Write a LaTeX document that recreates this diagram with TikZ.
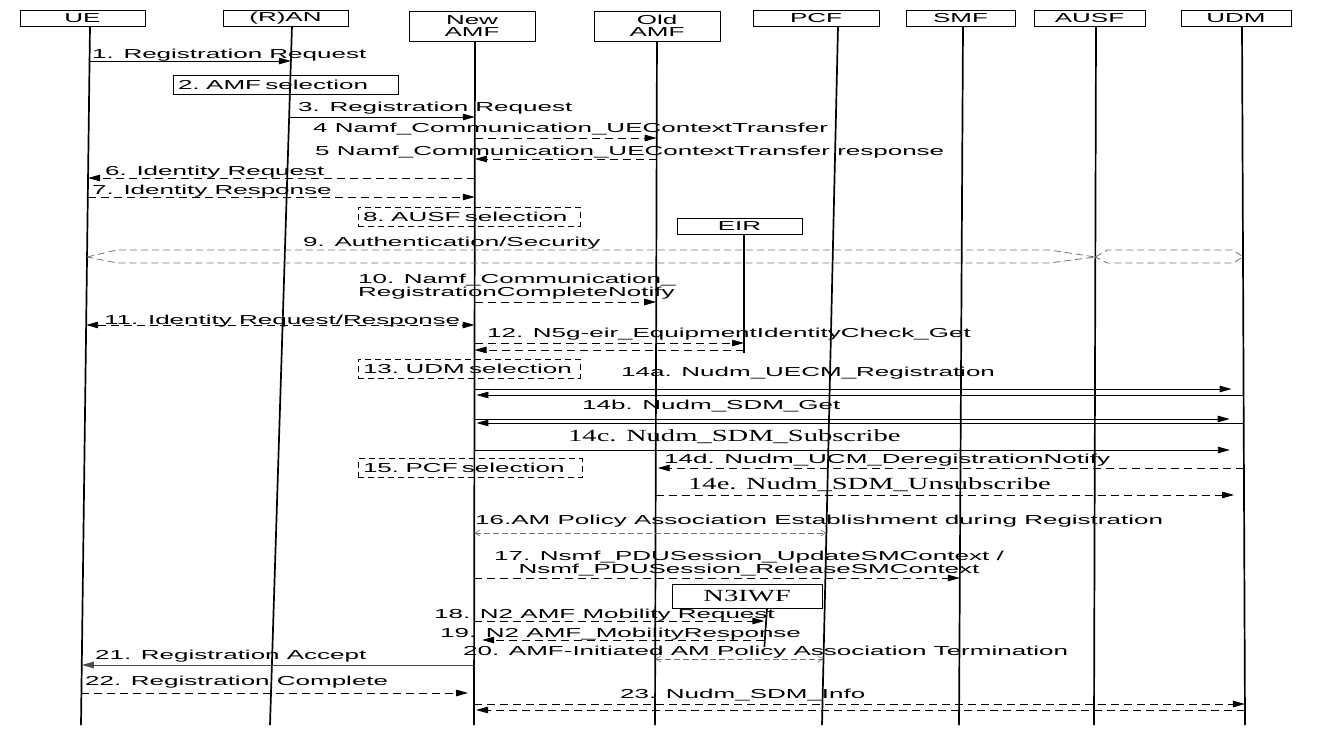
\documentclass[tikz,border=0pt]{standalone}
\usepackage{fontspec}
\setmainfont{Liberation Sans}
\newfontfamily\msgfont[FakeStretch=2.0]{Liberation Sans}
\newfontfamily\serfont[FakeStretch=1.68]{Liberation Serif}
\usetikzlibrary{arrows.meta,calc}

%point on a lifeline at height #2
\newcommand\onl[2]{($(#1T)!{(#2-26)/699}!(#1B)$)}

\tikzset{
	entity/.style={draw,line width=1pt,fill=white,inner sep=0pt,align=center,
		font=\msgfont\fontsize{13}{12}\selectfont},
	lifeline/.style={line width=1.7pt},
	msg/.style={line width=0.9pt,-{Triangle[length=12pt,width=6.5pt]}},
	dmsg/.style={msg,dash pattern=on 8pt off 5pt},
	faint/.style={line width=0.6pt,black!55,dash pattern=on 6pt off 3pt,
		{Straight Barb[length=5pt,width=6pt]}-{Straight Barb[length=5pt,width=6pt]}},
	authbox/.style={black!55,line width=0.8pt,dash pattern=on 7pt off 4pt},
	lbl/.style={anchor=base west,inner sep=0pt,font=\msgfont\fontsize{13}{12}\selectfont},
	slbl/.style={lbl,font=\serfont\fontsize{17}{16}\selectfont},
	selbox/.style={draw,line width=0.9pt,inner ysep=0pt,inner xsep=5pt,align=left,
		minimum height=19pt,font=\msgfont\fontsize{13}{12}\selectfont},
	dselbox/.style={selbox,dash pattern=on 6pt off 4pt},
}

\begin{document}
\begin{tikzpicture}[x=1pt,y=-1pt]
	\useasboundingbox (0,0) rectangle (1327,734);
	%Lifeline ends
		\coordinate (ueT) at (90,26);     \coordinate (ueB) at (81,725);
		\coordinate (ranT) at (292,26);   \coordinate (ranB) at (270,725);
		\coordinate (namfT) at (475,26);  \coordinate (namfB) at (474,725);
		\coordinate (oamfT) at (657,26);  \coordinate (oamfB) at (655,725);
		\coordinate (pcfT) at (838,26);   \coordinate (pcfB) at (822,725);
		\coordinate (smfT) at (963,26);   \coordinate (smfB) at (959,725);
		\coordinate (ausfT) at (1096,26); \coordinate (ausfB) at (1094,725);
		\coordinate (udmT) at (1242,26);  \coordinate (udmB) at (1245,725);
		\coordinate (eirT) at (744,26);   \coordinate (eirB) at (744,725);
		\coordinate (niwfT) at (767,26);  \coordinate (niwfB) at (764,725);
	%Lifelines
		\foreach \n in {ue,ran,namf,oamf,pcf,smf,ausf,udm}
		{
			\draw[lifeline] (\n T) -- (\n B);
		}
	%Entities
		\node[entity,minimum width=125pt,minimum height=16pt] (ue) at (82.5,18) {UE};
		\node[entity,minimum width=125pt,minimum height=16pt] (ran) at (285.5,18) {(R)AN};
		\node[entity,minimum width=126pt,minimum height=30pt] (namf) at (472,26) {New\\AMF};
		\node[entity,minimum width=126pt,minimum height=30pt] (oamf) at (657,26) {Old\\AMF};
		\node[entity,minimum width=126pt,minimum height=16pt] (pcf) at (816,18) {PCF};
		\node[entity,minimum width=109pt,minimum height=16pt] (smf) at (960.5,18) {SMF};
		\node[entity,minimum width=111pt,minimum height=16pt] (ausf) at (1089.5,18) {AUSF};
		\node[entity,minimum width=110pt,minimum height=16pt] (udm) at (1236,18) {UDM};
	%Selection boxes
		\node[selbox,text width=215pt] (sel2) at (285.5,84.5) {2. AMF selection};
		\node[dselbox,text width=212pt] (sel8) at (469,216.5) {8. AUSF selection};
		\node[dselbox,text width=212pt] (sel13) at (469,368.5) {13. UDM selection};
		\node[dselbox,text width=214pt] (sel15) at (470,468) {15. PCF selection};
	%EIR and N3IWF
		\node[entity,minimum width=125pt,minimum height=16pt] (eir) at (739.5,226) {EIR};
		\draw[lifeline] (eir.south -| eirT) -- \onl{eir}{353};
		\node[entity,minimum width=150pt,minimum height=24pt,font=\serfont\fontsize{17}{16}\selectfont]
			(niwf) at (747,596) {N3IWF};
		\draw[lifeline] (niwf.south -| niwfT) -- \onl{niwf}{647};
	%Messages 1-7
		\draw[msg] \onl{ue}{61} -- \onl{ran}{61};
		\node[lbl] (m1) at (92,58) {1. Registration Request};
		\draw[msg] \onl{ran}{117} -- \onl{namf}{117};
		\node[lbl] (m3) at (298,111) {3. Registration Request};
		\draw[dmsg] \onl{namf}{138} -- \onl{oamf}{138};
		\node[lbl] (m4) at (313,132) {4 Namf\_Communication\_UEContextTransfer};
		\draw[dmsg] \onl{oamf}{159} -- \onl{namf}{159};
		\node[lbl] (m5) at (315,155) {5 Namf\_Communication\_UEContextTransfer response};
		\draw[dmsg] \onl{namf}{178} -- \onl{ue}{178};
		\node[lbl] (m6) at (105,175) {6. Identity Request};
		\draw[dmsg] \onl{ue}{197} -- \onl{namf}{197};
		\node[lbl] (m7) at (92,194) {7. Identity Response};
	%Authentication
		\path \onl{ue}{257} coordinate (h1);
		\path \onl{ausf}{257} coordinate (h2);
		\path \onl{udm}{257} coordinate (h3);
		\draw[authbox]
			(h1) -- ($(h1)+(30,-7)$) -- ($(h2)+(-46,-7)$) -- (h2)
			-- ($(h2)+(-46,6)$) -- ($(h1)+(30,6)$) -- cycle;
		\draw[authbox]
			(h2) -- ($(h2)+(12,-7)$) -- ($(h3)+(-10,-7)$) -- (h3)
			-- ($(h3)+(-10,6)$) -- ($(h2)+(12,6)$) -- cycle;
		\node[lbl] (m9) at (303,246) {9. Authentication/Security};
	%Messages 10-13
		\node[lbl,anchor=north west,align=left] (m10) at (358,274) {10. Namf\_Communication\_\\RegistrationCompleteNotify};
		\draw[dmsg] \onl{namf}{302} -- \onl{oamf}{302};
		\draw[dmsg,{Triangle[length=12pt,width=6.5pt]}-{Triangle[length=12pt,width=6.5pt]}]
			\onl{ue}{325} -- \onl{namf}{325};
		\node[lbl] (m11) at (104,324) {11. Identity Request/Response};
		\node[lbl] (m12) at (487,337) {12. N5g-eir\_EquipmentIdentityCheck\_Get};
		\draw[dmsg] \onl{namf}{343} -- \onl{eir}{343};
		\draw[dmsg] \onl{eir}{350} -- \onl{namf}{350};
	%Messages 14
		\node[lbl] (m14a) at (621,376) {14a. Nudm\_UECM\_Registration};
		\draw[msg,shorten >=12pt] \onl{namf}{389} -- \onl{udm}{389};
		\draw[msg,shorten >=2pt] \onl{udm}{395} -- \onl{namf}{395};
		\node[lbl] (m14b) at (582,409) {14b. Nudm\_SDM\_Get};
		\draw[msg,shorten >=14pt] \onl{namf}{419} -- \onl{udm}{419};
		\draw[msg,shorten >=2pt] \onl{udm}{423} -- \onl{namf}{423};
		\node[slbl] (m14c) at (568,441) {14c. Nudm\_SDM\_Subscribe};
		\draw[msg,shorten >=14pt] \onl{namf}{450} -- \onl{udm}{450};
		\node[lbl] (m14d) at (664,463) {14d. Nudm\_UCM\_DeregistrationNotify};
		\draw[dmsg,shorten >=2pt] \onl{udm}{468} -- \onl{oamf}{468};
		\node[slbl] (m14e) at (688,489) {14e. Nudm\_SDM\_Unsubscribe};
		\draw[dmsg,shorten >=10pt] \onl{oamf}{495} -- \onl{udm}{495};
	%Messages 16-20
		\node[lbl] (m16) at (475,524) {16.AM Policy Association Establishment during Registration};
		\draw[faint] \onl{namf}{533} -- \onl{pcf}{533};
		\node[lbl,anchor=north,align=center] (m17) at (749,551) {17. Nsmf\_PDUSession\_UpdateSMContext /\\Nsmf\_PDUSession\_ReleaseSMContext};
		\draw[dmsg] \onl{namf}{578} -- \onl{smf}{578};
		\node[lbl] (m18) at (434,618) {18. N2 AMF Mobility Request};
		\draw[dmsg] \onl{namf}{621} -- \onl{niwf}{621};
		\node[lbl] (m19) at (440,637) {19. N2 AMF\_MobilityResponse};
		\draw[dmsg,shorten >=8pt] \onl{niwf}{640} -- \onl{namf}{640};
		\node[lbl] (m20) at (463,655) {20. AMF-Initiated AM Policy Association Termination};
		\draw[faint] \onl{oamf}{659} -- \onl{pcf}{659};
	%Messages 21-23
		\draw[msg,gray!60!black] \onl{namf}{665} -- \onl{ue}{665};
		\node[lbl] (m21) at (95,659) {21. Registration Accept};
		\draw[dmsg,shorten >=6pt] \onl{ue}{693} -- \onl{namf}{693};
		\node[lbl] (m22) at (85,685) {22. Registration Complete};
		\node[lbl] (m23) at (620,698) {23. Nudm\_SDM\_Info};
		\draw[dmsg] \onl{namf}{704} -- \onl{udm}{704};
		\draw[dmsg,shorten >=2pt] \onl{udm}{710} -- \onl{namf}{710};
\end{tikzpicture}
\end{document}
